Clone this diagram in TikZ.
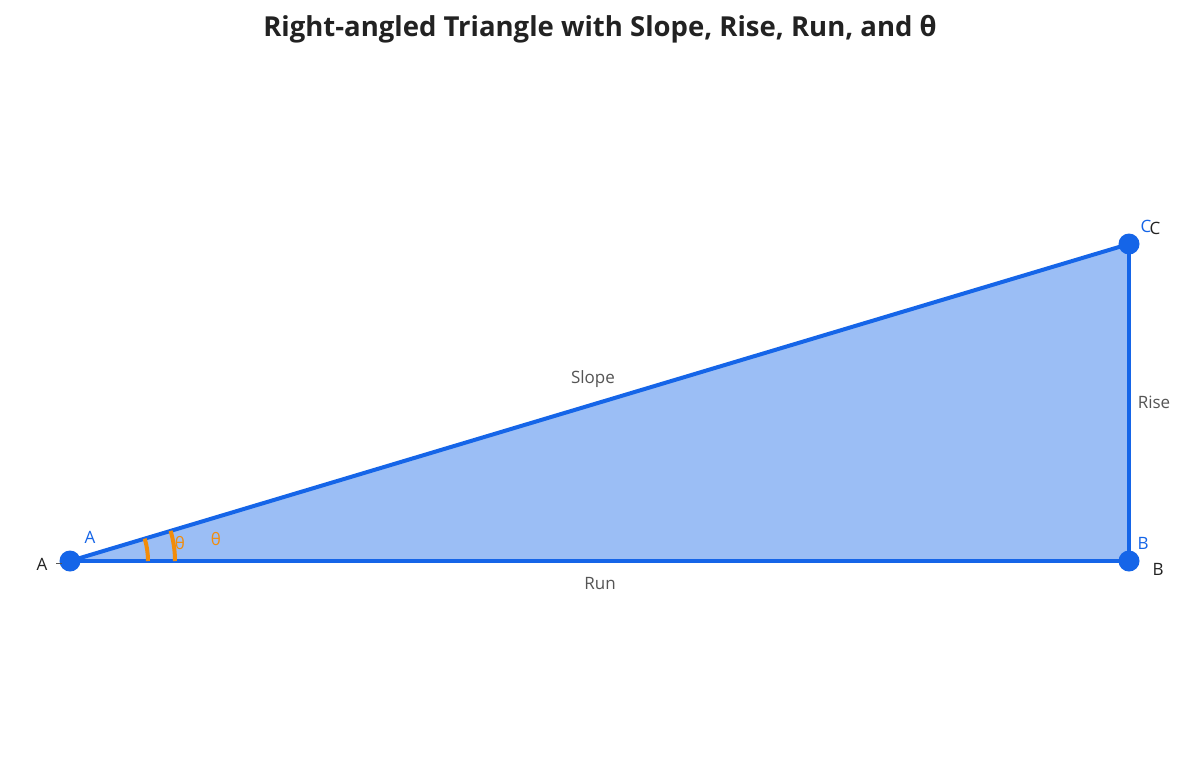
\documentclass[tikz,border=0pt]{standalone}
\usepackage{fontspec}
\setmainfont{Open Sans}
\definecolor{edgeblue}{HTML}{1565E8}
\definecolor{fillblue}{HTML}{9BBEF5}
\definecolor{angleorange}{HTML}{F28C0A}
\definecolor{labelgray}{HTML}{555555}
\definecolor{titlegray}{HTML}{222222}
\tikzset{
  edge/.style={draw=edgeblue, line width=4pt},
  vertexdot/.style={circle, fill=edgeblue, inner sep=0pt, minimum size=21pt},
  sidelabel/.style={text=labelgray, font=\fontsize{17}{19}\selectfont, inner sep=1pt},
  bluelabel/.style={text=edgeblue, font=\fontsize{17}{19}\selectfont, inner sep=1pt},
  blacklabel/.style={text=titlegray, font=\fontsize{17}{19}\selectfont, inner sep=1pt},
  anglearc/.style={draw=angleorange, line width=4pt},
  anglelabel/.style={text=angleorange, font=\fontsize{17}{19}\selectfont, inner sep=1pt},
}
\begin{document}
\begin{tikzpicture}[x=1pt,y=-1pt]
\useasboundingbox (0,0) rectangle (1200,764);
\fill[white] (0,0) rectangle (1200,764);
\coordinate (pA) at (70,561);
\coordinate (pB) at (1129,561);
\coordinate (pC) at (1129,244);
\fill[fillblue] (pA) -- (pB) -- (pC) -- cycle;
\draw[edge] (pA) -- (pB);
\draw[edge] (pB) -- (pC);
\draw[edge] (pA) -- (pC);
% angle arcs
\draw[anglearc] ([shift={(78,0)}]pA) arc[start angle=0, end angle=-16.7, radius=78];
\draw[anglearc] ([shift={(105,0)}]pA) arc[start angle=0, end angle=-16.7, radius=105];
\node[vertexdot] (A) at (pA) {};
\node[vertexdot] (B) at (pB) {};
\node[vertexdot] (C) at (pC) {};
% tick left of A
\coordinate (tA1) at (56,563);
\coordinate (tA2) at (62,563);
\draw[labelgray, line width=0.8pt] (tA1) -- (tA2);
% labels
\node[blacklabel] (la) at (42,564) {A};
\node[bluelabel] (lab) at (90,537) {A};
\node[bluelabel] (lcb) at (1146,226) {C};
\node[blacklabel] (lc) at (1155,228) {C};
\node[bluelabel] (lbb) at (1143,543) {B};
\node[blacklabel] (lb) at (1158,569) {B};
\node[sidelabel] (slope) at (593,379) {Slope};
\node[sidelabel] (rise) at (1154,402) {Rise};
\node[sidelabel] (run) at (600,584) {Run};
\node[anglelabel] (t1) at (180,543) {θ};
\node[anglelabel] (t2) at (216,539) {θ};
\node[text=titlegray, font=\bfseries\fontsize{27.5}{32}\selectfont] (title) at (600,29) {Right-angled Triangle with Slope, Rise, Run, and θ};
\end{tikzpicture}
\end{document}
